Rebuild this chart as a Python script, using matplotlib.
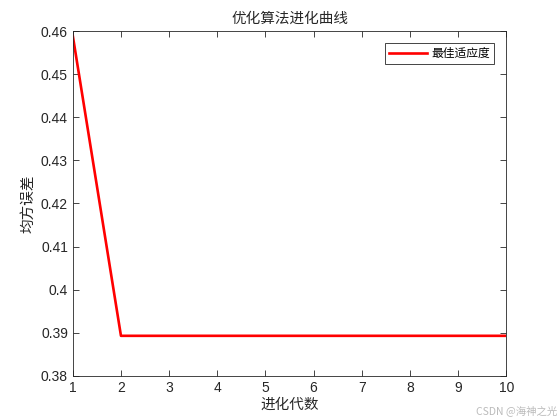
import numpy as np
import matplotlib
matplotlib.use('Agg')
import matplotlib.pyplot as plt

plt.rcParams['font.family'] = ['Liberation Sans', 'Noto Sans CJK SC', 'DejaVu Sans']

generations = [1, 2, 3, 4, 5, 6, 7, 8, 9, 10]
best_fitness = [0.4589, 0.3893, 0.3893, 0.3893, 0.3893, 0.3893, 0.3893, 0.3893, 0.3893, 0.3893]
x_ticks = [1, 2, 3, 4, 5, 6, 7, 8, 9, 10]
y_ticks = [0.38, 0.39, 0.4, 0.41, 0.42, 0.43, 0.44, 0.45, 0.46]
y_labels = ['0.38', '0.39', '0.4', '0.41', '0.42', '0.43', '0.44', '0.45', '0.46']

cjk = ['Noto Sans CJK SC', 'DejaVu Sans']

fig = plt.figure(figsize=(5.6, 4.2), dpi=100)
ax = fig.add_axes([0.130, 0.105, 0.774, 0.821])
ax.plot(generations, best_fitness, color='red', linewidth=1.9, label='最佳适应度')
ax.set_xlim(1, 10)
ax.set_ylim(0.38, 0.46)
ax.set_xticks(x_ticks)
ax.set_yticks(y_ticks)
ax.set_yticklabels(y_labels)
ax.tick_params(direction='in', top=True, right=True, labelsize=10, colors='#262626',
               length=4, width=0.6)
for s in ax.spines.values():
    s.set_linewidth(0.6)
    s.set_color('#262626')

ax.set_title('优化算法进化曲线', family=cjk, fontsize=10.5, color='#262626', pad=6)
ax.set_xlabel('进化代数', family=cjk, fontsize=10.5, color='#262626', labelpad=2)
ax.set_ylabel('均方误差', family=cjk, fontsize=10.5, color='#262626', labelpad=4)

leg = ax.legend(loc='upper right', prop={'family': cjk, 'size': 8.5}, fancybox=False,
                edgecolor='#262626', framealpha=1, handlelength=3.2, handletextpad=0.4,
                borderpad=0.35, borderaxespad=1.0)
leg.get_frame().set_linewidth(0.6)

fig.text(0.995, 0.01, 'CSDN @海神之光', family=cjk, fontsize=7.5, color='#bbbbbb',
         ha='right', va='bottom')

fig.savefig('out.png', dpi=100)
